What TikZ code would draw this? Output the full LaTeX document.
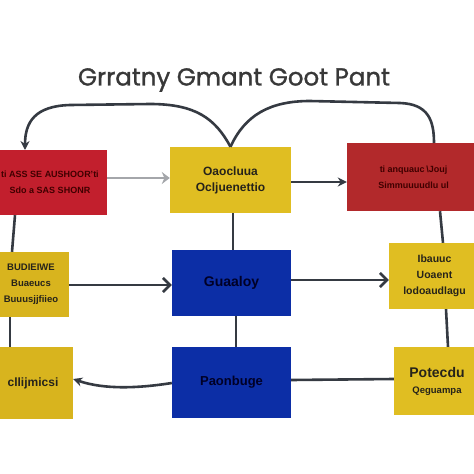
\documentclass[tikz,border=0pt]{standalone}
\usepackage{fontspec}
\setmainfont{Liberation Sans}
\newfontfamily\titlefont[FakeBold=1.2]{Poppins}
\usetikzlibrary{arrows.meta}
\definecolor{redA}{HTML}{C21F2D}
\definecolor{redB}{HTML}{B2292B}
\definecolor{yelA}{HTML}{E0BE22}
\definecolor{yelB}{HTML}{D8B41E}
\definecolor{bluA}{HTML}{0C2EA6}
\definecolor{lineC}{HTML}{353A42}
\definecolor{txtC}{HTML}{26231A}
\begin{document}
\begin{tikzpicture}[x=1pt,y=-1pt,
  box/.style={draw=none,inner sep=0pt,align=center,font=\bfseries\fontsize{9}{16}\selectfont,text=txtC},
  redbox/.style={box,fill=redA,text=black!75!red},
  yelbox/.style={box,fill=yelA},
  blubox/.style={box,fill=bluA,text=black!85!blue},
  conn/.style={draw=lineC,line width=2.6pt},
  arr/.style={conn,-{Stealth[length=9pt,width=9pt]}},
  chev/.style={conn,-{Straight Barb[length=7pt,width=14pt,line width=2.6pt]}}]
\useasboundingbox (0,0) rectangle (474,474);
\clip (0,0) rectangle (474,474);
\fill[white] (0,0) rectangle (474,474);
% title
\node[font=\titlefont\fontsize{24.5}{28}\selectfont, text=black!78] (title) at (234,80) {Grratny Gmant Goot Pant};
% boxes
\node[redbox,minimum width=114pt,minimum height=65pt] (r1) at (50,182.5) {ti ASS SE AUSHOOR'ti\\Sdo a SAS SHONR};
\node[yelbox,minimum width=121pt,minimum height=66pt] (y1) at (230.5,180) {\fontsize{12}{23}\selectfont Oaocluua\\\fontsize{12}{23}\selectfont Ocljuenettio};
\node[redbox,fill=redB,minimum width=133pt,minimum height=68pt] (r2) at (413.5,177) {ti anquauc\,\textbackslash Jouj\\Simmuuuudlu ul};
\node[yelbox,fill=yelB,minimum width=76pt,minimum height=65pt] (y2) at (31,284.5) {\fontsize{9.5}{17}\selectfont BUDIEIWE\\\fontsize{9.5}{17}\selectfont Buaeucs\\\fontsize{9.5}{17}\selectfont Buuusjjfiieo};
\node[blubox,minimum width=119pt,minimum height=66pt] (b1) at (231.5,283) {\fontsize{14}{16}\selectfont Guaaloy};
\node[yelbox,minimum width=91pt,minimum height=66pt] (y3) at (434.5,276) {\fontsize{10.5}{18}\selectfont Ibauuc\\\fontsize{10.5}{18}\selectfont Uoaent\\\fontsize{10.5}{18}\selectfont lodoaudlagu};
\node[yelbox,fill=yelB,minimum width=80pt,minimum height=72pt] (y4) at (33,383) {\fontsize{12}{14}\selectfont cllijmicsi};
\node[blubox,minimum width=119pt,minimum height=71pt] (b2) at (231.5,382.5) {\fontsize{13}{15}\selectfont Paonbuge};
\node[yelbox,minimum width=86pt,minimum height=68pt] (y5) at (437,381) {\fontsize{14}{18}\selectfont Potecdu\\\fontsize{9.5}{12}\selectfont Qeguampa};
% anchor coordinates
\coordinate (y1t) at (y1.north);
\coordinate (r1t) at (25,150);
\coordinate (r2t) at (434,143);
% top curves
\draw[arr] (y1t) .. controls (215,118) and (195,104) .. (150,104) -- (70,105) .. controls (35,106) and (25,122) .. (r1t);
\draw[conn] (y1t) .. controls (245,115) and (270,101) .. (310,101) -- (400,103) .. controls (428,104) and (434,120) .. (r2t);
% horizontal connectors
\draw[conn,draw=lineC!45,-{Stealth[length=8pt,width=12pt]}] (r1.east |- 0,178) -- (y1.west |- 0,178);
\draw[arr] (y1.east |- 0,182) -- (r2.west |- 0,182);
\draw[chev] (y2.east |- 0,285) -- (b1.west |- 0,285);
\draw[chev] (b1.east |- 0,280) -- (y3.west |- 0,280);
\draw[arr] (b2.west |- 0,383) .. controls (140,388) and (105,390) .. (y4.east |- 0,379);
\draw[conn] (b2.east |- 0,380) -- (y5.west |- 0,379);
% verticals
\draw[conn] (r1.south -| 15,0) -- (y2.north -| 12,0);
\draw[conn] (y2.south -| 10,0) -- (y4.north -| 10,0);
\draw[conn] (y1.south -| 233,0) -- (b1.north -| 233,0);
\draw[conn] (b1.south -| 236,0) -- (b2.north -| 236,0);
\draw[conn] (r2.south -| 440,0) -- (y3.north -| 443,0);
\draw[conn] (y3.south -| 446,0) -- (y5.north -| 448,0);
\end{tikzpicture}
\end{document}
